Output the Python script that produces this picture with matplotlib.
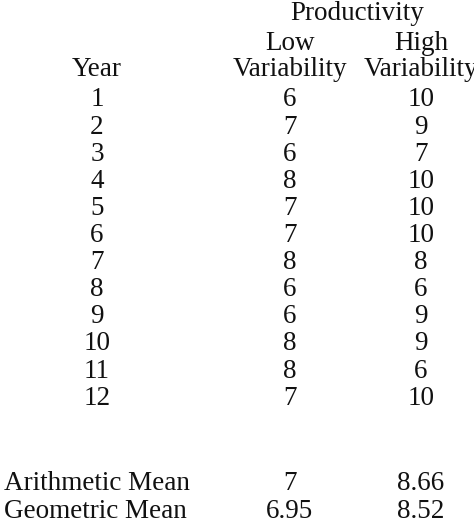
import matplotlib
matplotlib.use("Agg")
import matplotlib.pyplot as plt

years = [str(i) for i in range(1, 13)]
low = ["6", "7", "6", "8", "7", "7", "8", "6", "6", "8", "8", "7"]
high = ["10", "9", "7", "10", "10", "10", "8", "6", "9", "9", "6", "10"]
summary_labels = ["Arithmetic Mean", "Geometric Mean"]
summary_low = ["7", "6.95"]
summary_high = ["8.66", "8.52"]

W, H = 474, 524
fig = plt.figure(figsize=(W / 100, H / 100), dpi=100)
ax = fig.add_axes([0, 0, 1, 1])
ax.set_xlim(0, W)
ax.set_ylim(H, 0)
ax.axis("off")
fs = 19.5
kw = dict(family="Liberation Serif", fontsize=fs, va="center", color="#111111")

ax.text(357, 14, "Productivity", ha="center", **kw)
ax.text(290, 44, "Low", ha="center", **kw)
ax.text(290, 70, "Variability", ha="center", **kw)
ax.text(421, 44, "High", ha="center", **kw)
ax.text(421, 70, "Variability", ha="center", **kw)
ax.text(97, 70, "Year", ha="center", **kw)

y0, dy = 100, 27.1
for i, (y, l, h) in enumerate(zip(years, low, high)):
    yy = y0 + i * dy
    ax.text(97, yy, y, ha="center", **kw)
    ax.text(290, yy, l, ha="center", **kw)
    ax.text(421, yy, h, ha="center", **kw)

for i, (lab, l, h) in enumerate(zip(summary_labels, summary_low, summary_high)):
    yy = 484 + i * 27
    ax.text(4, yy, lab, ha="left", **kw)
    ax.text(290, yy, l, ha="center", **kw)
    ax.text(421, yy, h, ha="center", **kw)

fig.savefig("out.png", dpi=100, facecolor="white")
